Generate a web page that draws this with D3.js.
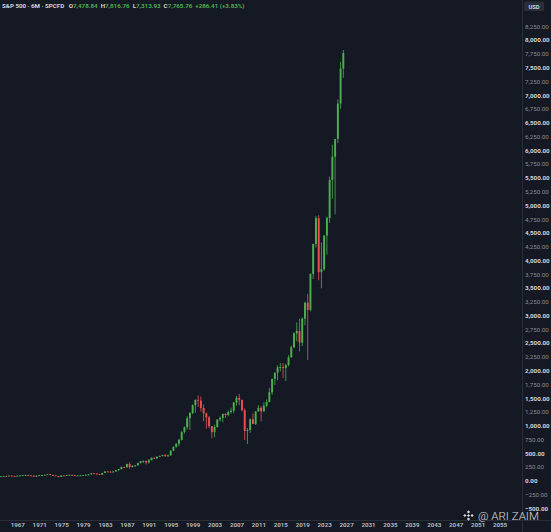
<!DOCTYPE html>
<html>
<head>
<meta charset="utf-8">
<script src="https://cdn.jsdelivr.net/npm/d3@7/dist/d3.min.js"></script>
<style>
html,body{margin:0;padding:0;background:#151924;}
svg{display:block;font-family:Roboto,"Noto Sans",sans-serif;}
</style>
</head>
<body>
<svg id="chart" width="551" height="532"></svg>
<script>
// Semi-annual bars, first bar = 1963 H2
const firstPeriod = 1963.5;
const opens = [69.4,75.0,81.7,84.8,84.1,92.4,84.7,80.3,90.6,96.5,99.6,103.9,97.7,92.1,72.7,92.2,99.7,102.1,107.1,118.1,104.3,97.6,86.0,68.6,95.2,90.2,104.3,107.5,100.5,95.1,95.5,96.1,102.9,107.9,114.2,135.8,131.2,122.6,109.6,140.6,168.1,164.9,153.2,167.2,191.9,211.3,250.8,242.2,304.0,247.1,273.5,277.7,318.0,353.4,358.0,330.2,371.2,417.1,408.1,435.7,450.5,466.5,444.3,459.3,544.8,615.9,670.6,740.7,885.1,970.4,1133.8,1229.2,1372.7,1469.3,1454.6,1320.3,1224.4,1148.1,989.8,879.8,974.5,1111.9,1140.8,1211.9,1191.3,1248.3,1270.2,1418.3,1503.4,1468.4,1280.0,903.3,919.3,1115.1,1030.7,1257.6,1320.6,1257.6,1362.2,1426.2,1606.3,1848.4,1960.2,2058.9,2063.1,2043.9,2098.9,2238.8,2423.4,2673.6,2718.4,2506.9,2941.8,3230.8,3100.3,3756.1,4297.5,4766.2,3785.4,3839.5,4450.4,4769.8,5460.5,5881.6,6205.0,6845.0,7478.84];
const highs = [75.2,81.9,86.3,90.1,92.6,94.1,87.1,95.0,97.6,101.0,108.4,106.2,98.0,93.5,92.8,104.8,102.1,110.7,119.1,120.2,111.4,99.8,86.9,95.6,95.6,104.3,107.8,107.5,101.8,99.7,107.0,102.9,111.3,118.4,140.5,138.1,132.6,122.6,143.0,172.6,172.6,169.3,170.4,192.6,212.0,254.0,254.0,306.0,336.0,274.0,284.0,327.0,360.0,369.0,369.0,392.0,418.0,420.0,441.0,456.0,471.0,482.0,475.0,552.0,622.0,681.0,761.0,899.0,984.0,1171.0,1244.0,1383.0,1473.0,1553.0,1530.0,1383.0,1236.0,1176.0,994.0,1015.0,1112.0,1163.0,1217.0,1229.0,1275.0,1326.0,1431.0,1540.0,1576.0,1471.0,1313.0,956.0,1130.0,1220.0,1263.0,1370.0,1356.0,1422.0,1475.0,1687.0,1849.0,1968.0,2093.0,2135.0,2133.0,2121.0,2278.0,2454.0,2695.0,2873.0,2940.0,2964.0,3248.0,3394.0,3760.0,4302.0,4808.0,4819.0,4325.0,4458.0,4794.0,5523.0,6100.0,6147.0,6920.0,7600.0,7816.76];
const lows = [67.7,74.9,80.8,81.6,83.2,84.0,73.2,80.3,89.5,87.7,96.6,96.6,89.2,69.3,72.3,90.2,90.2,101.7,104.6,101.4,92.2,86.0,62.3,68.6,82.1,90.2,98.3,98.2,90.7,86.9,92.5,96.1,99.9,98.2,113.5,128.5,112.8,107.1,102.4,138.3,158.0,147.8,147.8,163.4,180.0,203.5,228.0,242.2,216.0,242.0,256.0,275.0,316.0,322.0,294.5,311.0,371.0,394.0,393.0,426.0,441.0,435.0,438.0,457.0,540.0,597.0,626.0,729.0,855.0,927.0,923.0,1205.0,1233.0,1339.0,1254.0,1081.0,944.0,952.0,768.0,788.0,960.0,1076.0,1060.0,1137.0,1168.0,1219.0,1224.0,1364.0,1370.0,1256.0,741.0,667.0,869.0,1028.0,1011.0,1249.0,1075.0,1256.0,1334.0,1426.0,1560.0,1737.0,1820.0,1981.0,1867.0,1810.0,2074.0,2235.0,2405.0,2533.0,2346.0,2444.0,2822.0,2192.0,3073.0,3662.0,4233.0,3637.0,3492.0,3809.0,4104.0,4683.0,5119.0,4835.0,6130.0,6750.0,7313.93];
const closes = [75.0,81.7,84.8,84.1,92.4,84.7,80.3,90.6,96.5,99.6,103.9,97.7,92.1,72.7,92.2,99.7,102.1,107.1,118.1,104.3,97.6,86.0,68.6,95.2,90.2,104.3,107.5,100.5,95.1,95.5,96.1,102.9,107.9,114.2,135.8,131.2,122.6,109.6,140.6,168.1,164.9,153.2,167.2,191.9,211.3,250.8,242.2,304.0,247.1,273.5,277.7,318.0,353.4,358.0,330.2,371.2,417.1,408.1,435.7,450.5,466.5,444.3,459.3,544.8,615.9,670.6,740.7,885.1,970.4,1133.8,1229.2,1372.7,1469.3,1454.6,1320.3,1224.4,1148.1,989.8,879.8,974.5,1111.9,1140.8,1211.9,1191.3,1248.3,1270.2,1418.3,1503.4,1468.4,1280.0,903.3,919.3,1115.1,1030.7,1257.6,1320.6,1257.6,1362.2,1426.2,1606.3,1848.4,1960.2,2058.9,2063.1,2043.9,2098.9,2238.8,2423.4,2673.6,2718.4,2506.9,2941.8,3230.8,3100.3,3756.1,4297.5,4766.2,3785.4,3839.5,4450.4,4769.8,5460.5,5881.6,6205.0,6845.0,7479.35,7765.76];
const yearTicks = d3.range(1967, 2056, 4);
const priceTicks = d3.range(-500, 8251, 250);
const symbolTitle = "S&P 500 · 6M · SPCFD";
const watermark = "@ ARI ZAIM";

const W = 551, H = 532;
const plotRight = 522, plotBottom = 520;
const upColor = "#4caf50", downColor = "#ef4f52";

const bars = opens.map((o, i) => ({
  t: firstPeriod + i * 0.5, o, h: highs[i], l: lows[i], c: closes[i]
}));

const x = d3.scaleLinear().domain([1967, 2055]).range([17.3, 499.5]);
const y = d3.scaleLinear().domain([0, 8000]).range([480.7, 40]);

const svg = d3.select("#chart");
svg.append("rect").attr("width", W).attr("height", H).attr("fill", "#151924");

svg.append("defs").append("clipPath").attr("id", "plotClip")
  .append("rect").attr("x", 0).attr("y", 0).attr("width", plotRight).attr("height", plotBottom);

const plot = svg.append("g").attr("clip-path", "url(#plotClip)");
const bw = 1.9;
const g = plot.selectAll("g.bar").data(bars).join("g").attr("class", "bar");
g.append("line")
  .attr("x1", d => x(d.t)).attr("x2", d => x(d.t))
  .attr("y1", d => y(d.h)).attr("y2", d => y(d.l))
  .attr("stroke", d => d.c >= d.o ? upColor : downColor)
  .attr("stroke-width", 0.8);
g.append("rect")
  .attr("x", d => x(d.t) - bw / 2)
  .attr("width", bw)
  .attr("y", d => y(Math.max(d.o, d.c)))
  .attr("height", d => Math.max(0.9, Math.abs(y(d.o) - y(d.c))))
  .attr("fill", d => d.c >= d.o ? upColor : downColor);

// Axis borders
svg.append("line").attr("x1", plotRight + 0.5).attr("x2", plotRight + 0.5)
  .attr("y1", 0).attr("y2", H).attr("stroke", "#2a2e39").attr("stroke-width", 1);
svg.append("line").attr("x1", 0).attr("x2", W)
  .attr("y1", plotBottom + 0.5).attr("y2", plotBottom + 0.5).attr("stroke", "#2a2e39").attr("stroke-width", 1);

// Price axis
const yAxis = svg.append("g").attr("transform", `translate(${plotRight},0)`)
  .call(d3.axisRight(y).tickValues(priceTicks).tickSize(0).tickPadding(3).tickFormat(d3.format(",.2f")));
yAxis.select(".domain").remove();
yAxis.selectAll("text")
  .attr("font-size", "6.2px")
  .attr("font-family", "Roboto, sans-serif")
  .attr("fill", d => d % 500 === 0 ? "#d1d4dc" : "#8a8d96")
  .attr("font-weight", d => d % 500 === 0 ? "bold" : "normal");

// Time axis
const xAxis = svg.append("g").attr("transform", `translate(0,${plotBottom})`)
  .call(d3.axisBottom(x).tickValues(yearTicks).tickSize(0).tickPadding(3).tickFormat(d3.format("d")));
xAxis.select(".domain").remove();
xAxis.selectAll("text")
  .attr("font-size", "6.2px")
  .attr("font-family", "Roboto, sans-serif")
  .attr("font-weight", "bold")
  .attr("fill", "#b2b5be");

// USD label box
svg.append("rect").attr("x", 524).attr("y", 1.5).attr("width", 20).attr("height", 9.5)
  .attr("rx", 1.5).attr("fill", "#2a2e39");
svg.append("text").attr("x", 534).attr("y", 8.6).attr("text-anchor", "middle")
  .attr("font-size", "5.8px").attr("font-weight", "bold").attr("fill", "#d1d4dc").text("USD");

// Header
const last = bars[bars.length - 1];
const prev = bars[bars.length - 2];
const chg = last.c - prev.c;
const pct = chg / prev.c * 100;
const f2 = d3.format(",.2f");
const hdr = svg.append("text").attr("x", 2).attr("y", 8).attr("font-size", "6.2px").attr("font-weight", "bold");
hdr.append("tspan").attr("fill", "#d1d4dc").text(symbolTitle + " ");
const hc = last.c >= last.o ? upColor : downColor;
[["O", last.o], ["H", last.h], ["L", last.l], ["C", last.c]].forEach(([k, v]) => {
  hdr.append("tspan").attr("fill", "#d1d4dc").attr("dx", 3).text(k);
  hdr.append("tspan").attr("fill", hc).text(f2(v));
});
hdr.append("tspan").attr("fill", hc).attr("dx", 3)
  .text((chg >= 0 ? "+" : "") + f2(chg) + " (" + (pct >= 0 ? "+" : "") + pct.toFixed(2) + "%)");

// Watermark
const wm = svg.append("g").attr("fill", "#e6e6e6").attr("opacity", 0.92);
const lx = 468.5, ly = 515.5;
const dia = (cx, cy, r) => `M${cx},${cy - r}L${cx + r},${cy}L${cx},${cy + r}L${cx - r},${cy}Z`;
wm.append("path").attr("d", dia(lx, ly, 1.6));
wm.append("path").attr("d", dia(lx, ly - 3.6, 1.6));
wm.append("path").attr("d", dia(lx, ly + 3.6, 1.6));
wm.append("path").attr("d", dia(lx - 3.6, ly, 1.6));
wm.append("path").attr("d", dia(lx + 3.6, ly, 1.6));
wm.append("text").attr("x", 478).attr("y", 519.5).attr("font-size", "11.5px")
  .attr("font-family", "Roboto, sans-serif").attr("font-weight", 300).text(watermark);
</script>
</body>
</html>
